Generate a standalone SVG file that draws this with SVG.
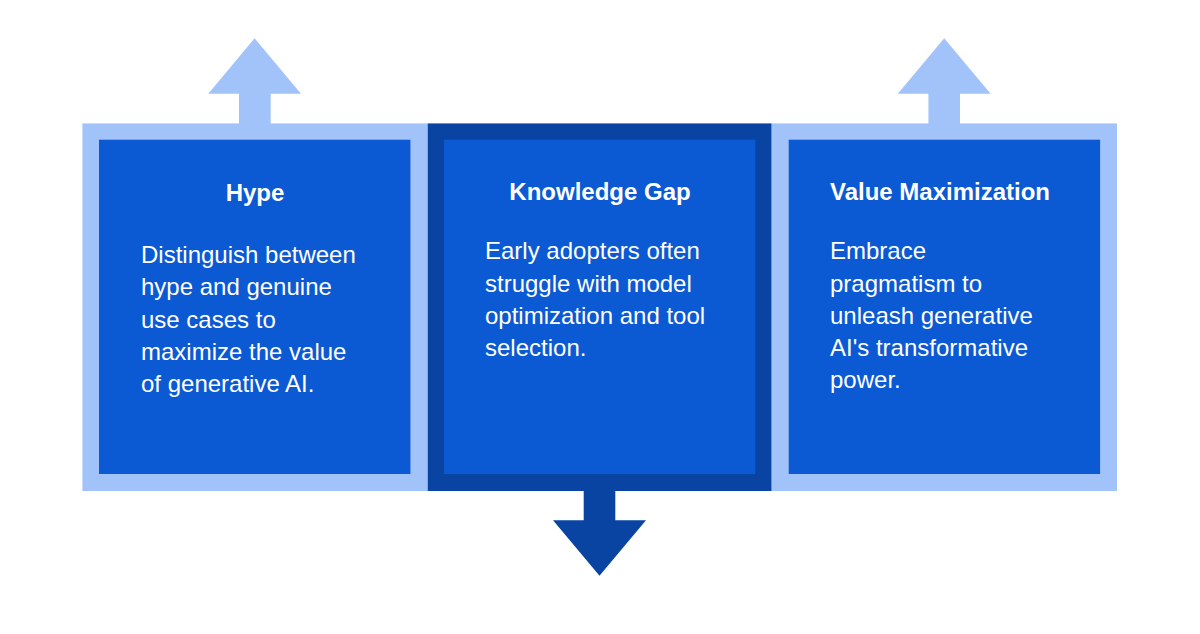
<svg xmlns="http://www.w3.org/2000/svg" width="1200" height="634" viewBox="0 0 1200 634">
<style>
.bg{fill:#fff}
.light{fill:#a2c3fa}
.dark{fill:#0a44a3}
.inner{fill:#0b59d3}
text{fill:#fff}
.t{font-family:"Liberation Sans",Arial,sans-serif;font-size:24px;font-weight:700;text-anchor:middle}
.b{font-family:"Liberation Sans",Arial,sans-serif;font-size:24px}
</style>
<rect class="bg" width="1200" height="634"/>
<g id="connectors">
<polygon class="light" points="239,124 239,93.700 208.300,93.700 254.600,38.300 301,93.700 270.700,93.700 270.700,124"/>
<polygon class="light" points="928.400,124 928.400,93.700 897.800,93.700 944.200,38.300 990.600,93.700 960,93.700 960,124"/>
<polygon class="dark" points="583.700,490 583.700,520.300 553,520.300 599.500,575.700 646,520.300 615.300,520.300 615.300,490"/>
</g>
<g id="hype">
<rect class="light" x="82.400" y="123.400" width="345.300" height="367.600"/>
<rect class="inner" x="99" y="139.700" width="311.400" height="334.300"/>
<text class="t" x="255" y="201">Hype</text>
<text class="b" x="141" y="263">Distinguish between</text>
<text class="b" x="141" y="295">hype and genuine</text>
<text class="b" x="141" y="328">use cases to</text>
<text class="b" x="141" y="360">maximize the value</text>
<text class="b" x="141" y="392">of generative AI.</text>
</g>
<g id="knowledge-gap">
<rect class="dark" x="427.700" y="123.400" width="344" height="367.600"/>
<rect class="inner" x="444" y="139.700" width="311.300" height="334.300"/>
<text class="t" x="600" y="200">Knowledge Gap</text>
<text class="b" x="485" y="259">Early adopters often</text>
<text class="b" x="485" y="292">struggle with model</text>
<text class="b" x="485" y="324">optimization and tool</text>
<text class="b" x="485" y="356">selection.</text>
</g>
<g id="value-maximization">
<rect class="light" x="771.700" y="123.400" width="345.300" height="367.600"/>
<rect class="inner" x="788.700" y="139.700" width="311.400" height="334.300"/>
<text class="t" x="940" y="200">Value Maximization</text>
<text class="b" x="830" y="259">Embrace</text>
<text class="b" x="830" y="292">pragmatism to</text>
<text class="b" x="830" y="324">unleash generative</text>
<text class="b" x="830" y="356">AI's transformative</text>
<text class="b" x="830" y="388">power.</text>
</g>
</svg>
